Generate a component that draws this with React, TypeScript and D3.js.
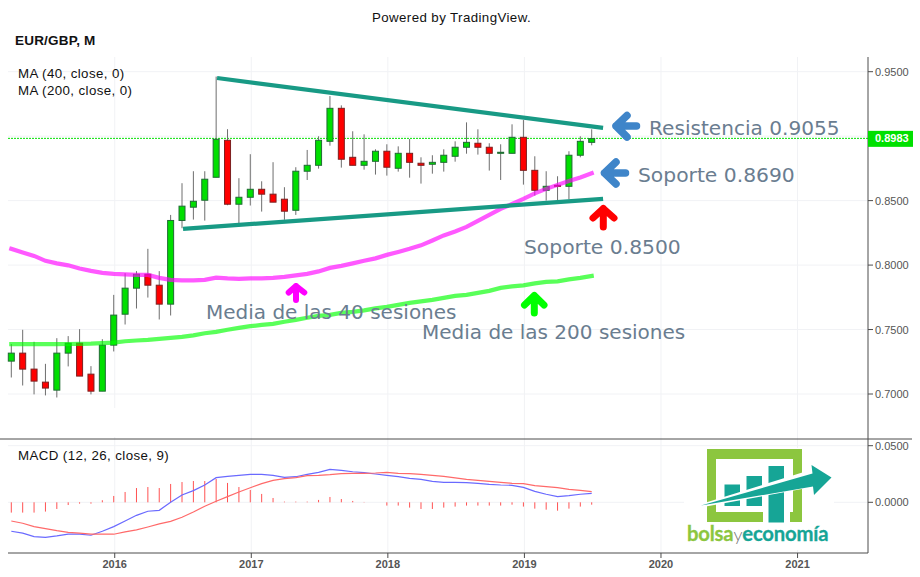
import { line, scaleLinear } from "d3";

const width = 920;
const height = 577;

const opens = [
  0.7255, 0.7317, 0.7193, 0.7092, 0.703, 0.7317, 0.7394, 0.7154, 0.7022, 0.7379, 0.7619, 0.7821, 0.7929,
  0.7844, 0.7697, 0.8346, 0.8449, 0.8503, 0.8681, 0.8968, 0.8472, 0.8526, 0.8588, 0.855, 0.8511, 0.8425,
  0.8728, 0.8774, 0.896, 0.9216, 0.8836, 0.8774, 0.8805, 0.8883, 0.8751, 0.8867, 0.879, 0.8782, 0.8797,
  0.8844, 0.8914, 0.8945, 0.8914, 0.8867, 0.8867, 0.8991, 0.8735, 0.858, 0.8619, 0.8611, 0.8852, 0.8952,
];
const highs = [
  0.7387, 0.7498, 0.7405, 0.7234, 0.7433, 0.7449, 0.7503, 0.7216, 0.7425, 0.7769, 0.7937, 0.7953, 0.8126,
  0.7953, 0.8389, 0.8635, 0.8728, 0.8728, 0.9462, 0.9054, 0.8674, 0.886, 0.865, 0.8798, 0.8604, 0.8759,
  0.8893, 0.8999, 0.9311, 0.9239, 0.9038, 0.9014, 0.8898, 0.8937, 0.8921, 0.8978, 0.8836, 0.8852, 0.8898,
  0.896, 0.9107, 0.9053, 0.8945, 0.8937, 0.9092, 0.9125, 0.8844, 0.8728, 0.8689, 0.8883, 0.8999, 0.9053,
];
const lows = [
  0.7128, 0.7066, 0.6997, 0.6989, 0.6973, 0.7214, 0.7139, 0.6997, 0.7022, 0.733, 0.7539, 0.7663, 0.7748,
  0.7578, 0.7609, 0.8286, 0.8353, 0.8345, 0.8681, 0.8464, 0.8325, 0.8462, 0.8415, 0.8488, 0.8351, 0.8389,
  0.866, 0.8748, 0.8926, 0.8756, 0.8774, 0.874, 0.8702, 0.8694, 0.8725, 0.8678, 0.8632, 0.8709, 0.8725,
  0.8802, 0.8864, 0.8857, 0.8733, 0.866, 0.8867, 0.8624, 0.8539, 0.85, 0.85, 0.851, 0.8836, 0.8929,
];
const closes = [
  0.7317, 0.7193, 0.71, 0.7046, 0.7317, 0.7394, 0.7139, 0.7022, 0.7379, 0.7612, 0.7821, 0.7929, 0.7844,
  0.7697, 0.8346, 0.8457, 0.8495, 0.8666, 0.8976, 0.8472, 0.8526, 0.8588, 0.855, 0.8488, 0.8418, 0.8728,
  0.8774, 0.8968, 0.9216, 0.8821, 0.8774, 0.8805, 0.8883, 0.8759, 0.8867, 0.8797, 0.8774, 0.8797, 0.8852,
  0.8914, 0.8952, 0.8914, 0.8867, 0.8875, 0.8991, 0.8735, 0.858, 0.8611, 0.8611, 0.8852, 0.896, 0.8981,
];

const ma40 = [
  0.8126, 0.8098, 0.8071, 0.8033, 0.8013, 0.7998, 0.7974, 0.7955, 0.794, 0.7932, 0.7928, 0.7924, 0.7924,
  0.7901, 0.7885, 0.7881, 0.7881, 0.7885, 0.7903, 0.7897, 0.7893, 0.7897, 0.7897, 0.7901, 0.7909, 0.792,
  0.7932, 0.7951, 0.7978, 0.7994, 0.8013, 0.8033, 0.8052, 0.8079, 0.8102, 0.8126, 0.8153, 0.8191, 0.823,
  0.8261, 0.8296, 0.8343, 0.8389, 0.8436, 0.8474, 0.8513, 0.8556, 0.8591, 0.8622, 0.8653, 0.868, 0.8712,
];
const ma200 = [
  0.7387, 0.7387, 0.7387, 0.7387, 0.7387, 0.7388, 0.7389, 0.7391, 0.7395, 0.7399, 0.7409, 0.7415, 0.742,
  0.7428, 0.7436, 0.7443, 0.7455, 0.7471, 0.7482, 0.7498, 0.7513, 0.7526, 0.7536, 0.7544, 0.756, 0.7575,
  0.7591, 0.7606, 0.7614, 0.7629, 0.7637, 0.7649, 0.7664, 0.7676, 0.7691, 0.7707, 0.7719, 0.773, 0.7746,
  0.7761, 0.7769, 0.7784, 0.78, 0.7823, 0.7835, 0.7843, 0.7858, 0.787, 0.7874, 0.7889, 0.7901, 0.7916,
];

const macdLine = [
  -0.0256, -0.0273, -0.0303, -0.0309, -0.0297, -0.0282, -0.0282, -0.0291, -0.0256, -0.0215, -0.0165, -0.0115,
  -0.0079, -0.0071, 0, 0.0065, 0.0103, 0.0153, 0.0218, 0.0229, 0.0238, 0.0247, 0.0247, 0.0238, 0.0221, 0.0226,
  0.0247, 0.0265, 0.0291, 0.0282, 0.027, 0.0262, 0.025, 0.0238, 0.0226, 0.0212, 0.0203, 0.0185, 0.0176, 0.0176,
  0.0173, 0.0168, 0.0159, 0.0153, 0.015, 0.0132, 0.0097, 0.0071, 0.005, 0.0059, 0.0071, 0.0079,
];
const signalLine = [
  -0.0165, -0.0185, -0.0215, -0.0232, -0.025, -0.0265, -0.0273, -0.0282, -0.0282, -0.0282, -0.0262, -0.0244,
  -0.0218, -0.0191, -0.0168, -0.0132, -0.0085, -0.0035, 0.0009, 0.005, 0.0091, 0.0129, 0.0165, 0.0194, 0.0209,
  0.0218, 0.0235, 0.0238, 0.0244, 0.0253, 0.0256, 0.0256, 0.0259, 0.0265, 0.0256, 0.0253, 0.0247, 0.0238,
  0.0229, 0.0215, 0.0203, 0.0194, 0.0185, 0.0176, 0.0168, 0.0165, 0.0147, 0.0138, 0.0129, 0.0115, 0.0106, 0.0094,
];
const histogram = [
  -0.0091, -0.0091, -0.0091, -0.0082, -0.0059, -0.0024, -0.0012, -0.0012, 0.0018, 0.0056, 0.0091, 0.0126, 0.0135,
  0.0126, 0.0162, 0.0179, 0.0188, 0.0188, 0.0206, 0.0171, 0.0135, 0.0109, 0.0074, 0.0038, 0.0006, 0.0006, 0.0006,
  0.0021, 0.0047, 0.0029, 0.0012, 0.0003, 0, -0.0029, -0.0029, -0.0047, -0.0059, -0.0059, -0.0047, -0.0038,
  -0.0029, -0.0029, -0.0029, -0.0029, -0.0021, -0.0038, -0.0056, -0.0065, -0.0074, -0.0056, -0.0038, -0.0021,
];

// trend lines as [month index, price]
const resistance: [number, number][] = [[18.08, 0.9451], [52, 0.9064]];
const support: [number, number][] = [[15.09, 0.8281], [52, 0.8513]];

const yearTicks = [9, 21, 33, 45, 57, 69];
const yearLabels = ["2016", "2017", "2018", "2019", "2020", "2021"];
const priceGrid = [0.95, 0.9, 0.85, 0.8, 0.75, 0.7];
// 0.9000 sits behind the last price label, so only its grid line shows
const priceTicks = [0.95, 0.85, 0.8, 0.75, 0.7];
const macdTicks = [0.05, 0];
const lastPrice = 0.8983;

const plotLeft = 8;
const axisX = 868;
const plotTop = 57;
const plotBottom = 553;

const x = scaleLinear().domain([0, 51]).range([11.3, 591.7]);
const y = scaleLinear().domain([0.95, 0.7]).range([71.7, 394]);
const yMacd = scaleLinear().domain([0.05, 0]).range([445.7, 502.3]);

const priceLine = line<number>().x((_, i) => x(i)).y((d) => y(d));
const macdPath = line<number>().x((_, i) => x(i)).y((d) => yMacd(d));
const trendPath = line<[number, number]>().x((d) => x(d[0])).y((d) => y(d[1]));

const sans = "'Liberation Sans', Arial, sans-serif";
const noteFont = "'DejaVu Sans', Verdana, sans-serif";
const noteColor = "#6a7d90";

function Arrow({ d, color, w }: { d: string; color: string; w: number }) {
  return <path d={d} fill="none" stroke={color} strokeWidth={w} strokeLinecap="round" strokeLinejoin="round" />;
}

function Logo() {
  const green = "#8cc63f";
  const teal = "#16a596";
  return (
    <g>
      <rect x={684} y={448} width={150} height={102} fill="#fff" />
      <path d="M707 449H802V522H790V512H793V459H716V512H763V522H707Z" fill={green} />
      <rect x={724.5} y={484.5} width={15.5} height={21.5} fill={teal} />
      <rect x={746.5} y={476} width={15.5} height={30} fill={teal} />
      <rect x={768.5} y={466} width={15.5} height={56.5} fill={teal} />
      <path d="M700 506L812 471L831 477L812 491L810 486Z" fill="#fff" stroke="#fff" strokeWidth={3} />
      <path d="M701 505.5L812.5 473.5L811.5 465L831.5 477.5L814 495L813 486.5Z" fill={teal} />
      <text x={687} y={541} fontFamily="Lato, 'Noto Sans', sans-serif" fontWeight={700} fontSize={20.3} letterSpacing={-0.2}>
        <tspan fill={green} stroke={green} strokeWidth={0.3}>bolsa</tspan>
        <tspan fill="#777" fontWeight={300} fontSize={18}>y</tspan>
        <tspan fill={teal} stroke={teal} strokeWidth={0.3}>economía</tspan>
      </text>
    </g>
  );
}

export default function App() {
  return (
    <svg
      width={width}
      height={height}
      style={{ position: "absolute", left: 0, top: 0, background: "#fff" }}
    >
      {/* grid */}
      <g stroke="#f1f2f5" strokeWidth={1}>
        {yearTicks.map((t) => (
          <line key={t} x1={x(t) + 1} x2={x(t) + 1} y1={plotTop} y2={plotBottom} />
        ))}
        {priceGrid.map((t) => (
          <line key={t} x1={plotLeft} x2={axisX} y1={y(t)} y2={y(t)} />
        ))}
        {macdTicks.map((t) => (
          <line key={t} x1={plotLeft} x2={axisX} y1={yMacd(t)} y2={yMacd(t)} />
        ))}
      </g>
      {/* the 2016 grid line breaks just above the separator in the original */}
      <rect x={112} y={408} width={6} height={29} fill="#fff" />

      <Logo />

      {/* last price line */}
      <line
        x1={plotLeft}
        x2={axisX}
        y1={y(lastPrice)}
        y2={y(lastPrice)}
        stroke="#00e000"
        strokeWidth={1}
        strokeDasharray="2 1"
      />

      {/* candles */}
      {closes.map((c, i) => {
        const up = c >= opens[i];
        const top = y(Math.max(c, opens[i]));
        const bottom = y(Math.min(c, opens[i]));
        return (
          <g key={i}>
            <line x1={x(i)} x2={x(i)} y1={y(highs[i])} y2={y(lows[i])} stroke="#6e6e6e" strokeWidth={1} />
            <rect
              x={x(i) - 3}
              y={top}
              width={6}
              height={Math.max(bottom - top, 1)}
              fill={up ? "#00df00" : "#ff0000"}
              stroke={up ? "#1f6b33" : "#7d1f1f"}
              strokeWidth={1}
            />
          </g>
        );
      })}

      {/* moving averages */}
      <path d={priceLine(ma40) ?? ""} fill="none" stroke="#ff00ff" strokeOpacity={0.65} strokeWidth={4.2} strokeLinecap="square" />
      <path d={priceLine(ma200) ?? ""} fill="none" stroke="#00ff00" strokeOpacity={0.65} strokeWidth={4.2} strokeLinecap="square" />

      {/* trend lines */}
      <path d={trendPath(resistance) ?? ""} fill="none" stroke="#189a85" strokeWidth={4.2} />
      <path d={trendPath(support) ?? ""} fill="none" stroke="#189a85" strokeWidth={4.2} />

      {/* macd */}
      {histogram.map((h, i) => (
        <line key={i} x1={x(i)} x2={x(i)} y1={yMacd(0)} y2={yMacd(h)} stroke="#ff5252" strokeWidth={1} />
      ))}
      <path d={macdPath(macdLine) ?? ""} fill="none" stroke="#6a6aff" strokeWidth={1.2} />
      <path d={macdPath(signalLine) ?? ""} fill="none" stroke="#ff6a6a" strokeWidth={1.2} />

      {/* arrows */}
      <Arrow d="M636.5 126H616M627 115.5L616 126L627 137" color="#3f85c9" w={7.5} />
      <Arrow d="M625.5 173H604.5M616 162L604.5 173L616 184" color="#3f85c9" w={7.5} />
      <Arrow d="M603.3 227V208.5M593 218L603.3 208.5L614 218" color="#ff0000" w={7} />
      <Arrow d="M296 300V286M288.7 292.5L296 286L304.3 292.5" color="#ff00ff" w={6} />
      <Arrow d="M534.3 313V295.5M524.5 305L534.3 295.5L544 305" color="#00ff00" w={7} />

      {/* notes */}
      <g fontFamily={noteFont} fill={noteColor}>
        <text x={649} y={135} fontSize={20.1}>Resistencia 0.9055</text>
        <text x={638} y={182} fontSize={20.3}>Soporte 0.8690</text>
        <text x={524} y={254} fontSize={20.3}>Soporte 0.8500</text>
        <text x={206} y={319} fontSize={20}>Media de las 40 sesiones</text>
        <text x={422} y={339} fontSize={20}>Media de las 200 sesiones</text>
      </g>

      {/* frame */}
      <line x1={axisX} x2={axisX} y1={plotTop} y2={plotBottom} stroke="#4c4c4c" />
      <line x1={plotLeft} x2={axisX} y1={plotBottom} y2={plotBottom} stroke="#4c4c4c" />
      <line x1={0} x2={912} y1={439} y2={439} stroke="#4c4c4c" />

      {/* axes */}
      <g fontFamily={sans} fontSize={11} fill="#555">
        {priceTicks.map((t) => (
          <g key={t}>
            <line x1={axisX} x2={axisX + 5} y1={y(t)} y2={y(t)} stroke="#4c4c4c" />
            <text x={875} y={y(t) + 4}>{t.toFixed(4)}</text>
          </g>
        ))}
        {macdTicks.map((t) => (
          <g key={t}>
            <line x1={axisX} x2={axisX + 5} y1={yMacd(t)} y2={yMacd(t)} stroke="#4c4c4c" />
            <text x={875} y={yMacd(t) + 4}>{t.toFixed(4)}</text>
          </g>
        ))}
      </g>
      <g fontFamily={sans} fontSize={11} fontWeight={700} fill="#555" textAnchor="middle">
        {yearTicks.map((t, i) => (
          <g key={t}>
            <line x1={x(t) + 1} x2={x(t) + 1} y1={plotBottom} y2={plotBottom + 5} stroke="#4c4c4c" />
            <text x={x(t) + 1} y={568}>{yearLabels[i]}</text>
          </g>
        ))}
      </g>

      {/* last price label */}
      <rect x={axisX} y={y(lastPrice) - 7.5} width={45} height={16} fill="#00e000" />
      <text x={875} y={y(lastPrice) + 4} fontFamily={sans} fontSize={11} fontWeight={700} fill="#fff">
        {lastPrice.toFixed(4)}
      </text>

      {/* titles and legends */}
      <g fontFamily={sans} fill="#111">
        <text x={451.5} y={22} fontSize={13.3} textAnchor="middle" letterSpacing={0.4}>Powered by TradingView.</text>
        <text x={15} y={45} fontSize={13.5} fontWeight={700} letterSpacing={0.2}>EUR/GBP, M</text>
        <text x={18} y={78} fontSize={13.3} letterSpacing={0.4}>MA (40, close, 0)</text>
        <text x={18} y={95} fontSize={13.3} letterSpacing={0.4}>MA (200, close, 0)</text>
        <text x={18} y={460} fontSize={13.3} letterSpacing={0.4}>MACD (12, 26, close, 9)</text>
      </g>
    </svg>
  );
}
